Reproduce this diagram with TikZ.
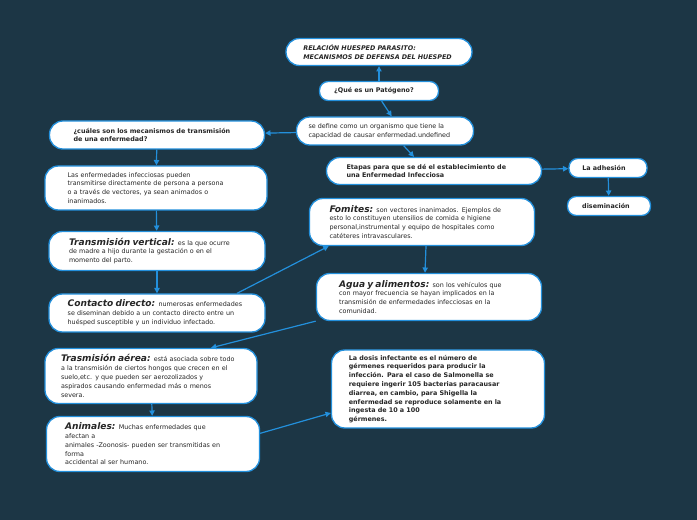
\documentclass[tikz,border=0pt]{standalone}
\usepackage{fontspec}
\setmainfont{DejaVu Sans}
\usetikzlibrary{arrows.meta}
\definecolor{bg}{HTML}{1C3645}
\definecolor{ln}{HTML}{2390DC}
\begin{document}
\begin{tikzpicture}[x=0.75pt,y=-0.75pt,
 box/.style={draw=ln,line width=1pt,fill=white,rounded corners=10pt,inner xsep=0pt,inner ysep=2pt,align=left,font=\fontsize{4.8}{6.6}\selectfont,execute at begin node={\hyphenpenalty=10000\exhyphenpenalty=10000},text=black!85},
 small/.style={rounded corners=6.5pt},
 ar/.style={draw=ln,line width=0.9pt,-{Triangle[length=4pt,width=4pt]}}]
\newcommand\hd[1]{{\fontsize{6.8}{8}\selectfont\bfseries\itshape #1}}
\newcommand\bx[8][]{\node[box,#1,minimum width=#5*0.75pt,minimum height=#6*0.75pt,text width=\dimexpr #5pt*3/4-#7pt\relax] (#2) at (#3,#4) {#8};}
\fill[bg] (0,0) rectangle (697,520);
\useasboundingbox (0,0) rectangle (697,520);
\bx{title}{379}{52}{186}{27}{26}{\textbf{\textit{RELACIÓN HUESPED PARASITO:\\MECANISMOS DE DEFENSA DEL HUESPED}}}
\bx[small]{pat}{379}{91}{119}{19}{22}{\centering\textbf{¿Qué es un Patógeno?}}
\bx{def}{385}{131}{177}{28}{18}{se define como un organismo que tiene la\\capacidad de causar enfermedad.undefined}
\bx{cual}{157}{135}{215}{28}{36}{\textbf{¿cuáles son los mecanismos de transmisión\\de una enfermedad?}}
\bx{las}{156}{188}{222}{44}{34}{Las enfermedades infecciosas pueden\\transmitirse directamente de persona a persona\\o a través de vectores, ya sean animados o\\inanimados.}
\bx{tv}{157}{251}{216}{39}{30}{\hd{Transmisión vertical:} es la que ocurre\\de madre a hijo durante la gestación o en el\\momento del parto.}
\bx{cd}{157}{313}{216}{38}{28}{\hd{Contacto directo:} numerosas enfermedades\\se diseminan debido a un contacto directo entre un\\huésped susceptible y un individuo infectado.}
\bx{ta}{151}{376}{212}{55}{24}{\hd{Trasmisión aérea:} está asociada sobre todo\\a la transmisión de ciertos hongos que crecen en el\\suelo,etc. y que pueden ser aerozolizados y\\aspirados causando enfermedad más o menos\\severa.}
\bx{an}{153}{444}{213}{55}{28}{\hd{Animales:} Muchas enfermedades que\\afectan a\\ animales -Zoonosis- pueden ser transmitidas en\\forma\\accidental al ser humano.}
\bx{etapas}{434}{171}{215}{27}{30}{\textbf{Etapas para que se dé el establecimiento de\\una Enfermedad Infecciosa}}
\bx[small]{adh}{608}{168}{78}{19}{20}{\centering\textbf{La adhesión}}
\bx[small]{dis}{609}{206}{83}{19}{22}{\centering\textbf{diseminación}}
\bx{fom}{422}{222}{225}{47}{30}{\hd{Fomites:} son vectores inanimados. Ejemplos de\\esto lo constituyen utensilios de comida e higiene\\personal,instrumental y equipo de hospitales como\\catéteres intravasculares.}
\bx{agua}{429}{297}{225}{47}{34}{\hd{Agua y alimentos:} son los vehículos que\\con mayor  frecuencia se hayan implicados en la\\transmisión de enfermedades infecciosas en la\\comunidad.}
\bx{dosis}{438}{389}{213}{78}{26}{\textbf{La dosis infectante es el número de\\gérmenes requeridos para producir la\\infección. Para el caso de Salmonella se\\requiere ingerir 105 bacterias paracausar\\diarrea, en cambio, para Shigella la\\enfermedad se reproduce solamente en la\\ingesta de 10 a 100\\gérmenes.}}
\draw[ar] (pat) -- (title);
\draw[ar] ([xshift=2]pat.south) -- ([xshift=5]def.north);
\draw[ar] (def) -- (cual);
\draw[ar] ([xshift=14]def.south) -- ([xshift=-15]etapas.north);
\draw[ar] (etapas) -- (adh);
\draw[ar] (adh) -- (dis);
\draw[ar] (cual) -- (las);
\draw[ar] (las) -- (tv);
\draw[ar] (tv) -- (cd);
\draw[ar] ([xshift=60]cd.north) -- ([xshift=-70]fom.south);
\draw[ar] ([xshift=3]fom.south) -- ([xshift=-3]agua.south |- agua.north);
\draw[ar] ([xshift=-85]agua.south) -- ([xshift=45]ta.north);
\draw[ar] (ta) -- (an);
\draw[ar] ([yshift=8]an.east) -- ([yshift=-18]dosis.west);
\end{tikzpicture}
\end{document}
